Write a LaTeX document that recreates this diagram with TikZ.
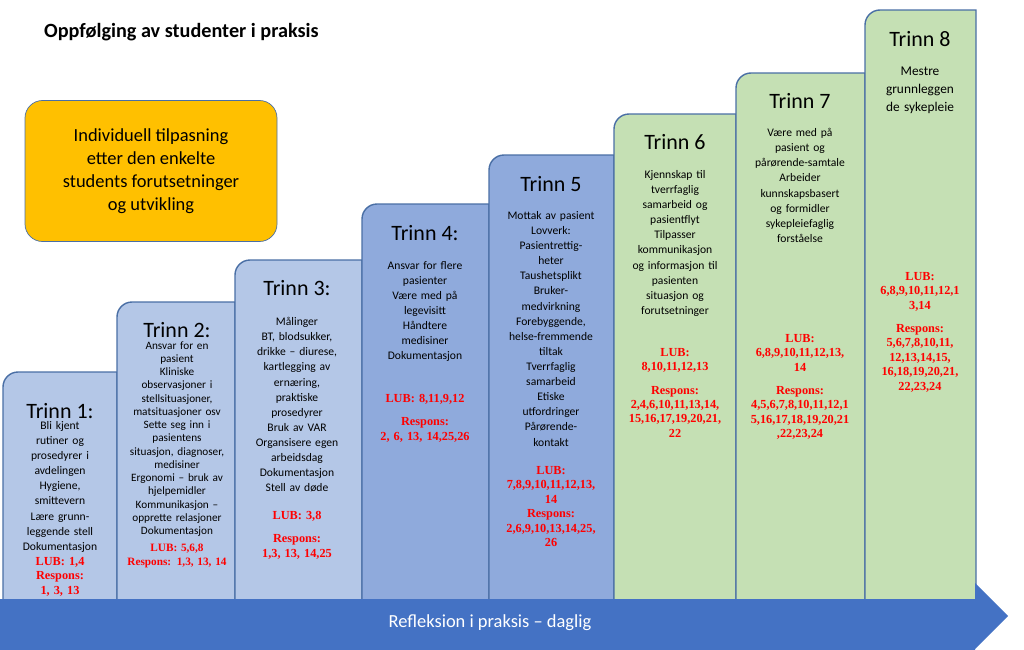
\documentclass[tikz,border=0pt]{standalone}
\usepackage{fontspec}
\setmainfont{Carlito}
\newfontfamily\redfont{Liberation Serif}
\definecolor{lightblue}{HTML}{B4C7E7}
\definecolor{midblue}{HTML}{8FAADC}
\definecolor{palegreen}{HTML}{C5E0B4}
\definecolor{edgeblue}{HTML}{4A6FA5}
\definecolor{arrowblue}{HTML}{4472C4}
\definecolor{goldbox}{HTML}{FFC000}
\tikzset{
  trinn/.style={draw=edgeblue, thick},
  head/.style={anchor=north, font=\fontsize{12.5}{13}\selectfont},
  body/.style={anchor=north, align=center, text width=#1, inner sep=0pt, font=\fontsize{6.6}{8.6}\selectfont},
  refs/.style={anchor=north, align=center, text width=#1, inner sep=0pt, text=red, font=\redfont\bfseries\fontsize{7}{8.2}\selectfont}
}
\newcommand{\stepbox}[4]{%
  \path[trinn, fill=#4] (#1,600) -- (#1,#3+15) arc[start angle=180, end angle=90, radius=0.3cm] -- (#2,#3) -- (#2,600) -- cycle;}
\begin{document}
\begin{tikzpicture}[x=0.02cm, y=-0.02cm]
  \useasboundingbox (0,0) rectangle (1024,649);
  \clip (0,0) rectangle (1024,649);
  \node[anchor=west, font=\bfseries\fontsize{11.5}{13}\selectfont] (title) at (38,32) {Oppfølging av studenter i praksis};
  \node[draw=edgeblue, fill=goldbox, rounded corners=0.35cm, minimum width=252*0.02cm, minimum height=141*0.02cm,
        align=center, font=\fontsize{10.5}{13}\selectfont] (tilpasning) at (151,171)
        {Individuell tilpasning\\etter den enkelte\\students forutsetninger\\og utvikling};
  % steps
  \stepbox{3}{117}{372}{lightblue}
  \stepbox{117}{235}{302}{lightblue}
  \stepbox{235}{362}{260}{lightblue}
  \stepbox{362}{489}{204}{midblue}
  \stepbox{489}{614}{155}{midblue}
  \stepbox{614}{736}{114}{palegreen}
  \stepbox{736}{865}{73}{palegreen}
  \stepbox{865}{976}{10}{palegreen}
  % trinn 1
  \node[head] (t1) at (60,397) {Trinn 1:};
  \node[body=100*0.02cm] (t1body) at (60,421) {Bli kjent\\rutiner og\\prosedyrer i\\avdelingen\\Hygiene,\\smittevern\\Lære grunn-\\leggende stell\\Dokumentasjon};
  \node[refs=100*0.02cm] (t1refs) at (60,557) {LUB: 1,4\\Respons:\\1, 3, 13};
  % trinn 2
  \node[head] (t2) at (177,316) {Trinn 2:};
  \node[body=112*0.02cm, font=\fontsize{6.4}{7.55}\selectfont] (t2body) at (177,341) {Ansvar for en\\pasient\\Kliniske\\observasjoner i\\stellsituasjoner,\\matsituasjoner osv\\Sette seg inn i\\pasientens\\situasjon, diagnoser,\\medisiner\\Ergonomi – bruk av\\hjelpemidler\\Kommunikasjon –\\opprette relasjoner\\Dokumentasjon};
  \node[refs=116*0.02cm, font=\redfont\bfseries\fontsize{6.4}{7.6}\selectfont] (t2refs) at (177,544) {LUB: 5,6,8\\Respons: 1,3, 13, 14};
  % trinn 3
  \node[head] (t3) at (297,274) {Trinn 3:};
  \node[body=115*0.02cm] (t3body) at (297,317) {Målinger\\BT, blodsukker,\\drikke – diurese,\\kartlegging av\\ernæring,\\praktiske\\prosedyrer\\Bruk av VAR\\Organsisere egen\\arbeidsdag\\Dokumentasjon\\Stell av døde};
  \node[refs=115*0.02cm] (t3refs) at (297,511) {LUB: 3,8\\[5pt]Respons:\\1,3, 13, 14,25};
  % trinn 4
  \node[head] (t4) at (425,219) {Trinn 4:};
  \node[body=115*0.02cm] (t4body) at (425,261) {Ansvar for flere\\pasienter\\Være med på\\legevisitt\\Håndtere\\medisiner\\Dokumentasjon};
  \node[refs=115*0.02cm] (t4refs) at (425,394) {LUB: 8,11,9,12\\[5pt]Respons:\\2, 6, 13, 14,25,26};
  % trinn 5
  \node[head] (t5) at (551,170) {Trinn 5};
  \node[body=120*0.02cm] (t5body) at (551,211) {Mottak av pasient\\Lovverk:\\Pasientrettig-\\heter\\Taushetsplikt\\Bruker-\\medvirkning\\Forebyggende,\\helse-fremmende\\tiltak\\Tverrfaglig\\samarbeid\\Etiske\\utfordringer\\Pårørende-\\kontakt};
  \node[refs=118*0.02cm] (t5refs) at (551,466) {LUB:\\7,8,9,10,11,12,13,\\14\\Respons:\\2,6,9,10,13,14,25,\\26};
  % trinn 6
  \node[head] (t6) at (675,128) {Trinn 6};
  \node[body=115*0.02cm] (t6body) at (675,170) {Kjennskap til\\tverrfaglig\\samarbeid og\\pasientflyt\\Tilpasser\\kommunikasjon\\og informasjon til\\pasienten\\situasjon og\\forutsetninger};
  \node[refs=118*0.02cm] (t6refs) at (675,348) {LUB:\\8,10,11,12,13\\[5pt]Respons:\\2,4,6,10,11,13,14,\\15,16,17,19,20,21,\\22};
  % trinn 7
  \node[head] (t7) at (800,87) {Trinn 7};
  \node[body=115*0.02cm] (t7body) at (800,128) {Være med på\\pasient og\\pårørende-samtale\\Arbeider\\kunnskapsbasert\\og formidler\\sykepleiefaglig\\forståelse};
  \node[refs=125*0.02cm] (t7refs) at (800,334) {LUB:\\6,8,9,10,11,12,13,\\14\\[5pt]Respons:\\4,5,6,7,8,10,11,12,1\\5,16,17,18,19,20,21\\,22,23,24};
  % trinn 8
  \node[head] (t8) at (920,25) {Trinn 8};
  \node[body=100*0.02cm, font=\fontsize{7.6}{10}\selectfont] (t8body) at (920,67) {Mestre\\grunnleggen\\de sykepleie};
  \node[refs=108*0.02cm] (t8refs) at (920,272) {LUB:\\6,8,9,10,11,12,1\\3,14\\[5pt]Respons:\\5,6,7,8,10,11,\\12,13,14,15,\\16,18,19,20,21,\\22,23,24};
  % arrow
  \fill[arrowblue] (0,599) -- (975,599) -- (975,583) -- (1008,616) -- (975,649) -- (975,652) -- (0,652) -- cycle;
  \node[text=white, font=\fontsize{10.5}{12}\selectfont] (refleksjon) at (490,623) {Refleksion i praksis – daglig};
\end{tikzpicture}
\end{document}
